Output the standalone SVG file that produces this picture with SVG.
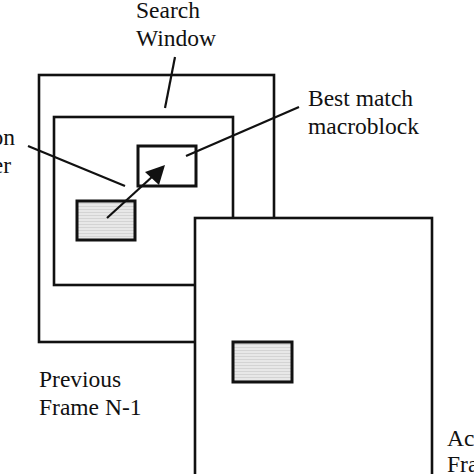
<svg xmlns="http://www.w3.org/2000/svg" width="474" height="474" viewBox="0 0 474 474">
<defs>
<style>
.frame{fill:#fff;stroke:#111;stroke-width:2.6}
.box{fill:#fff;stroke:#111;stroke-width:3}
.shade{fill:url(#stripes);stroke:#111;stroke-width:3}
.ptr{stroke:#111;stroke-width:2.2;fill:none}
text{font-family:"Liberation Serif","Times New Roman",serif;font-size:23.5px;fill:#111}
</style>
<pattern id="stripes" patternUnits="userSpaceOnUse" width="4" height="3">
<rect width="4" height="3" fill="#e8e8e8"/>
<rect y="2" width="4" height="1" fill="#d4d4d4"/>
</pattern>
</defs>
<rect width="474" height="474" fill="#fff"/>
<g id="previous-frame">
<rect class="frame" x="39" y="75" width="235" height="267"/>
<text x="39" y="387">Previous</text>
<text x="39" y="415">Frame N-1</text>
</g>
<g id="search-window">
<rect class="frame" x="54" y="117" width="179" height="168"/>
<text x="168" y="18" text-anchor="middle">Search</text>
<text x="176" y="46" text-anchor="middle">Window</text>
</g>
<g id="best-match">
<rect class="box" x="138" y="146" width="58" height="40"/>
<text x="308" y="106">Best match</text>
<text x="308" y="134">macroblock</text>
</g>
<g id="prev-macroblock">
<rect class="shade" x="77" y="201" width="58" height="39"/>
</g>
<g id="motion-vector-label">
<text x="15" y="145" text-anchor="end">on</text>
<text x="11" y="173" text-anchor="end">er</text>
</g>
<g id="connectors">
<line class="ptr" x1="175" y1="57" x2="165" y2="108"/>
<line class="ptr" x1="28" y1="146" x2="125" y2="186"/>
<line class="ptr" x1="186" y1="156" x2="299" y2="107"/>
<line class="ptr" x1="107" y1="218" x2="153" y2="176"/>
<polygon points="165,165 145,172 159,185" fill="#111"/>
</g>
<g id="actual-frame">
<rect class="frame" x="195" y="218" width="237" height="270"/>
<rect class="shade" x="233" y="342" width="59" height="40"/>
<text x="447" y="446">Ac</text>
<text x="447" y="472">Fra</text>
</g>
</svg>
